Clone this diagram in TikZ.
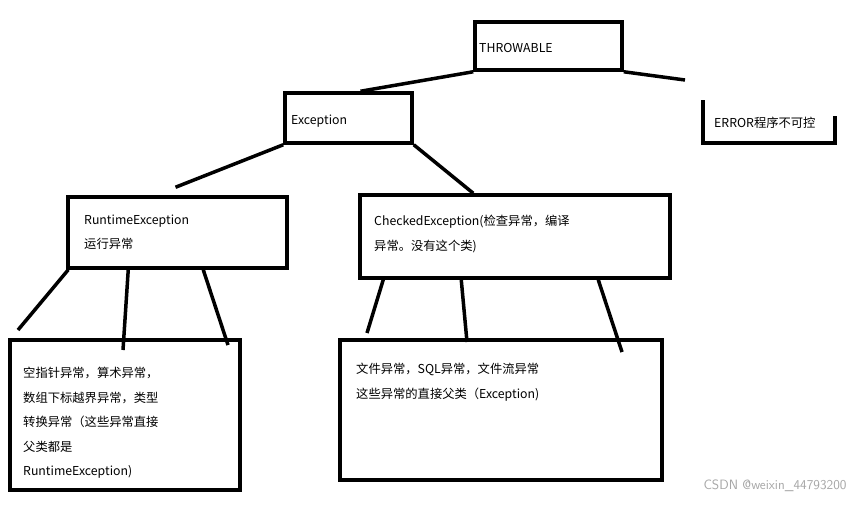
\documentclass[tikz,border=0pt]{standalone}
\usepackage{fontspec}
\newfontfamily\cjk{Noto Sans CJK SC}
\usetikzlibrary{calc}
\begin{document}
\begin{tikzpicture}[x=1pt,y=-1pt,
	box/.style={draw, line width=3.5pt, inner sep=0pt},
	txt/.style={anchor=west, font=\cjk\fontsize{12.3}{24.5}\selectfont, align=left, inner sep=0pt},
	link/.style={line width=3.5pt}]
	\useasboundingbox[fill=white] (0,0) rectangle (864,504);
	% boxes
	\node[box, minimum width=147pt, minimum height=48pt] (throw) at (548.5,46) {};
	\node[box, minimum width=127pt, minimum height=50pt] (exc) at (348.5,118) {};
	\node[box, minimum width=219pt, minimum height=71pt] (rt) at (177.5,232.5) {};
	\node[box, minimum width=310pt, minimum height=83pt] (chk) at (515,236.5) {};
	\node[box, minimum width=230pt, minimum height=150pt] (rtsub) at (125,415) {};
	\node[box, minimum width=322pt, minimum height=140pt] (chksub) at (501,410) {};
	% error box, open at top
	\draw[link] (703,100) coordinate (err) -- (703,143) -- (835,143) -- (835,116);
	\begin{scope}
		\clip (700,100) rectangle (833,150);
		\node[txt] (errtxt) at (714,123) {ERROR程序不可控};
	\end{scope}
	% texts
	\node[txt] (throwtxt) at (479,48) {THROWABLE};
	\node[txt] (exctxt) at (291,121) {Exception};
	\node[txt] (rttxt) at (84,232) {RuntimeException\\运行异常};
	\node[txt] (chktxt) at (374,234) {CheckedException(检查异常，编译\\异常。没有这个类)};
	\node[txt] (rtsubtxt) at (23,423) {空指针异常，算术异常，\\数组下标越界异常，类型\\转换异常（这些异常直接\\父类都是\\RuntimeException)};
	\node[txt] (chksubtxt) at (356,382) {文件异常，SQL异常，文件流异常\\这些异常的直接父类（Exception)};
	% connectors
	\draw[link] (throw.south west) -- ($(exc.north)+(12,0)$);
	\draw[link] (throw.south east) -- (685,80);
	\draw[link] (exc.south west) -- ($(rt.north)+(-2,-8)$);
	\draw[link] (exc.south east) -- ($(chk.north west)+(115,0)$);
	\draw[link] ($(rt.south west)+(2,0)$) -- (18,330);
	\draw[link] ($(rt.south west)+(62,0)$) -- (123,350);
	\draw[link] ($(rt.south west)+(137,0)$) -- (228,345);
	\draw[link] ($(chk.south west)+(25,0)$) -- (367,333);
	\draw[link] ($(chk.south west)+(103,0)$) -- (467,342);
	\draw[link] ($(chk.south west)+(240,0)$) -- (622,352);
	\node[anchor=east, text=gray!70, font=\sffamily\fontsize{13.5}{15}\selectfont] (mark) at (850,486) {CSDN @weixin\_44793200};
\end{tikzpicture}
\end{document}
